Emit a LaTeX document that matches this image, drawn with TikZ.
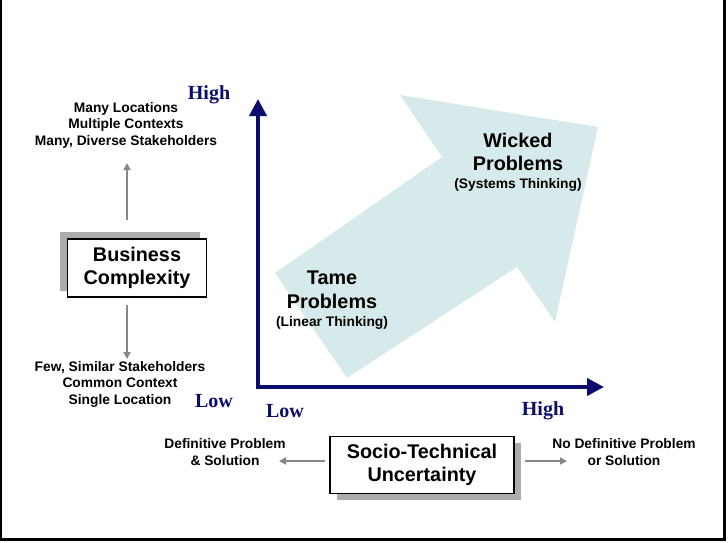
\documentclass[tikz,border=0pt]{standalone}
\usepackage{fontspec}
\setmainfont{Liberation Serif}
\setsansfont{Liberation Sans}
\usetikzlibrary{arrows.meta}
\definecolor{navy}{RGB}{12,12,110}
\definecolor{paleblue}{RGB}{214,234,236}
\definecolor{arrowgray}{RGB}{135,135,135}

\begin{document}
\begin{tikzpicture}[x=1pt,y=-1pt,
  note/.style={font=\sffamily\bfseries\fontsize{13.8}{16.5}\selectfont, align=center, inner sep=0pt},
  level/.style={font=\bfseries\fontsize{20}{22}\selectfont, text=navy, inner sep=0pt},
  titlebox/.style={draw=black, line width=1.8pt, fill=white, align=center,
    font=\sffamily\bfseries\fontsize{19.8}{23.5}\selectfont},
  axis/.style={navy, line width=4pt, -{Triangle[length=17pt,width=17pt]}},
  sidearrow/.style={arrowgray, line width=1.8pt, -{Triangle[length=7pt,width=7pt]}},
  bigtext/.style={font=\sffamily\bfseries\fontsize{19.8}{23.5}\selectfont, align=center, inner sep=0pt}]
\useasboundingbox (0,0) rectangle (728,543);

% frame
\draw[line width=1.5pt] (0.75,0) -- (0.75,539.5);
\draw[line width=3pt] (0,539.5) -- (724.5,539.5) -- (724.5,0);

% wide pale arrow
\fill[paleblue] (275,273) -- (442,157) -- (400,95) -- (598,127)
  -- (555,322) -- (517,267) -- (347,378) -- cycle;

% axes
\coordinate (origin) at (258,387);
\coordinate (ytip) at (258,99);
\coordinate (xtip) at (604,387);
\draw[axis] ([yshift=-2pt]origin) -- (ytip);
\draw[axis] ([xshift=-2pt]origin) -- (xtip);
\node[level] (yhigh) at (209,95) {High};
\node[level] (ylow) at (214,401) {Low};
\node[level] (xlow) at (285,411) {Low};
\node[level] (xhigh) at (543,411) {High};

% business complexity
\fill[gray!65] (60,232) rectangle (200,291);
\node[titlebox, minimum width=139pt, minimum height=58pt] (business) at (137,268) {Business\\Complexity};
\node[note] (many) at (126,125) {Many Locations\\Multiple Contexts\\Many, Diverse Stakeholders};
\node[note] (few) at (120,384) {Few, Similar Stakeholders\\Common Context\\Single Location};
\coordinate (upfrom) at (127,220);
\coordinate (upto) at (127,163);
\coordinate (downfrom) at (127,305);
\coordinate (downto) at (127,359);
\draw[sidearrow] (upfrom) -- (upto);
\draw[sidearrow] (downfrom) -- (downto);

% socio-technical uncertainty
\fill[gray!65] (337,443) rectangle (521,500);
\node[titlebox, minimum width=184pt, minimum height=57pt] (socio) at (422,465) {Socio-Technical\\Uncertainty};
\node[note] (definitive) at (225,452) {Definitive Problem\\\& Solution};
\node[note] (nodefinitive) at (624,452) {No Definitive Problem\\or Solution};
\coordinate (leftfrom) at (325,461);
\coordinate (leftto) at (279,461);
\coordinate (rightfrom) at (525,461);
\coordinate (rightto) at (567,461);
\draw[sidearrow] (leftfrom) -- (leftto);
\draw[sidearrow] (rightfrom) -- (rightto);

% problem types
\node[bigtext] (tame) at (332,290) {Tame\\Problems};
\node[note] (linear) at (332,323) {(Linear Thinking)};
\node[bigtext] (wicked) at (518,152) {Wicked\\Problems};
\node[note] (systems) at (518,185) {(Systems Thinking)};
\end{tikzpicture}
\end{document}
